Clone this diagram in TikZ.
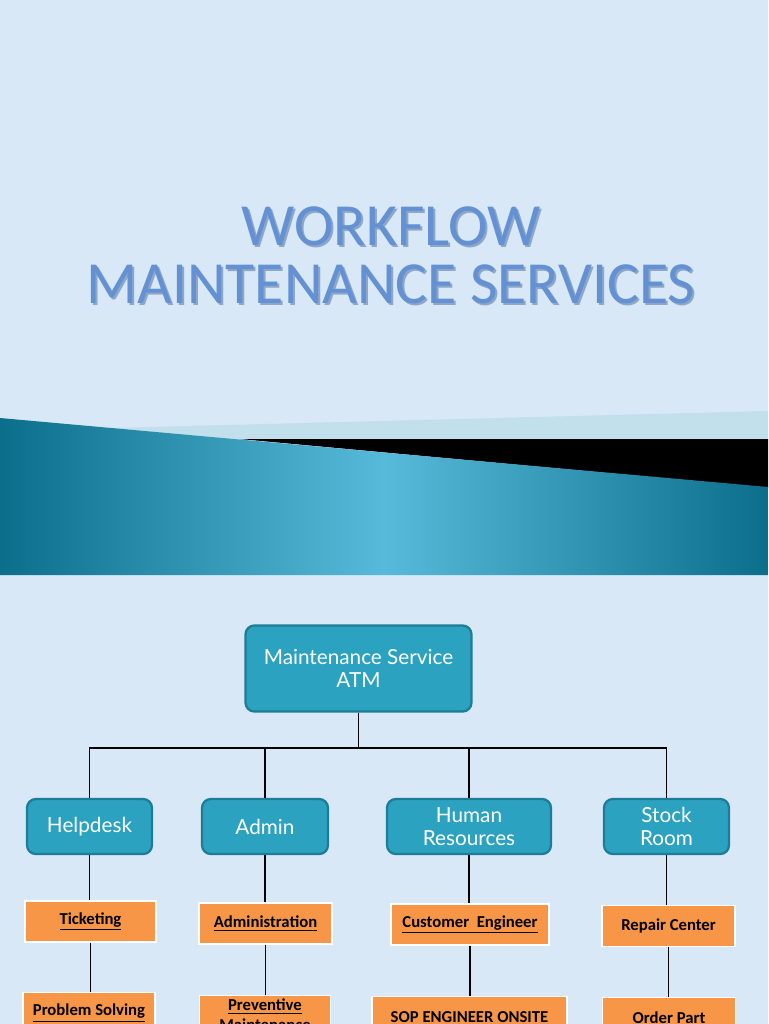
\documentclass[tikz,border=0pt]{standalone}
\usepackage{fontspec}
\setmainfont{Carlito}
\newfontfamily\boxfont{Lato}
\usetikzlibrary{positioning}
\definecolor{paper}{HTML}{D8E8F6}
\definecolor{titleblue}{HTML}{6391D3}
\definecolor{titleshade}{HTML}{35588C}
\definecolor{bandlight}{HTML}{C2DFEC}
\definecolor{banddark}{HTML}{0B6F8C}
\definecolor{bandmid}{HTML}{58BADA}
\definecolor{tealbox}{HTML}{2CA2C1}
\definecolor{tealedge}{HTML}{1D7C97}
\definecolor{taskorange}{HTML}{F79646}

\begin{document}
\begin{tikzpicture}[x=0.02cm, y=-0.02cm]
\tikzset{unit/.style={draw=tealedge, line width=1.3pt, fill=tealbox, rounded corners=5pt, text=white, align=center, inner sep=2pt, font=\boxfont\fontsize{11.8}{13}\selectfont}}
\tikzset{task/.style={draw=white, line width=0.6pt, fill=taskorange, align=center, inner sep=2pt, minimum height=0.82cm, font=\bfseries\fontsize{9.5}{11}\selectfont}}
\tikzset{titletext/.style={anchor=base, text=titleblue, font=\fontsize{34}{33}\selectfont}}
\tikzset{titleshadow/.style={titletext, text=titleshade, opacity=0.45}}

\useasboundingbox (0,0) rectangle (768,1024);
\clip (0,0) rectangle (768,1024);
\fill[paper] (0,0) rectangle (768,1024);

% title
\node[titleshadow] (t1s) at (393,247) {WORKFLOW};
\node[titleshadow] (t2s) at (393,305) {MAINTENANCE SERVICES};
\node[titletext] (t1) at (391,245) {WORKFLOW};
\node[titletext] (t2) at (391,303) {MAINTENANCE SERVICES};

% band
\fill[bandlight] (110,428) -- (768,411) -- (768,440) -- (240,440) -- cycle;
\fill[black] (240,439) -- (768,439) -- (768,488) -- cycle;
\shade[left color=banddark, right color=banddark, middle color=bandmid] (0,418) -- (768,487) -- (768,575) -- (0,575) -- cycle;

% chart
\node[unit, minimum width=4.52cm, minimum height=1.72cm] (atm) at (358.5,668.5) {Maintenance Service\\ATM};
\node[unit, minimum width=2.5cm, minimum height=1.1cm] (help) at (89.5,826.5) {Helpdesk};
\node[unit, minimum width=2.52cm, minimum height=1.1cm] (admin) at (265,826.5) {Admin};
\node[unit, minimum width=3.28cm, minimum height=1.1cm] (hr) at (469,826.5) {Human\\Resources};
\node[unit, minimum width=2.5cm, minimum height=1.1cm] (stock) at (666.5,826.5) {Stock\\Room};

\node[task, minimum width=2.62cm] (ticket) at (90.5,921.5) {\underline{Ticketing}};
\node[task, minimum width=2.66cm] (adm) at (265.5,923.5) {\underline{Administration}};
\node[task, minimum width=3.16cm] (ce) at (470,924.5) {\underline{Customer\ \ Engineer}};
\node[task, minimum width=2.66cm] (repair) at (668.5,926) {Repair Center};

\node[task, minimum width=2.64cm, anchor=north] (solve) at (89,992) {\underline{Problem Solving}};
\node[task, minimum width=2.62cm, anchor=north] (prev) at (265,995) {\underline{Preventive}\\\underline{Maintenance}};
\node[task, minimum width=3.9cm, anchor=north] (sop) at (469.5,996) {SOP ENGINEER ONSITE};
\node[task, minimum width=2.66cm, anchor=north] (order) at (669,997) {Order Part};

\coordinate (bus) at (358.5,748);
\draw[line width=0.6pt] (atm.south) -- (bus);
\foreach \n in {help, admin, hr, stock}
  \draw[line width=0.6pt] (\n.north) |- (bus);
\draw[line width=0.6pt] (help.south) -- (help.south |- ticket.north);
\draw[line width=0.6pt] (admin.south) -- (admin.south |- adm.north);
\draw[line width=0.6pt] (hr.south) -- (hr.south |- ce.north);
\draw[line width=0.6pt] (stock.south) -- (stock.south |- repair.north);
\draw[line width=0.6pt] (ticket.south) -- (ticket.south |- solve.north);
\draw[line width=0.6pt] (adm.south) -- (adm.south |- prev.north);
\draw[line width=0.6pt] (ce.south) -- (ce.south |- sop.north);
\draw[line width=0.6pt] (repair.south) -- (repair.south |- order.north);
\end{tikzpicture}
\end{document}
